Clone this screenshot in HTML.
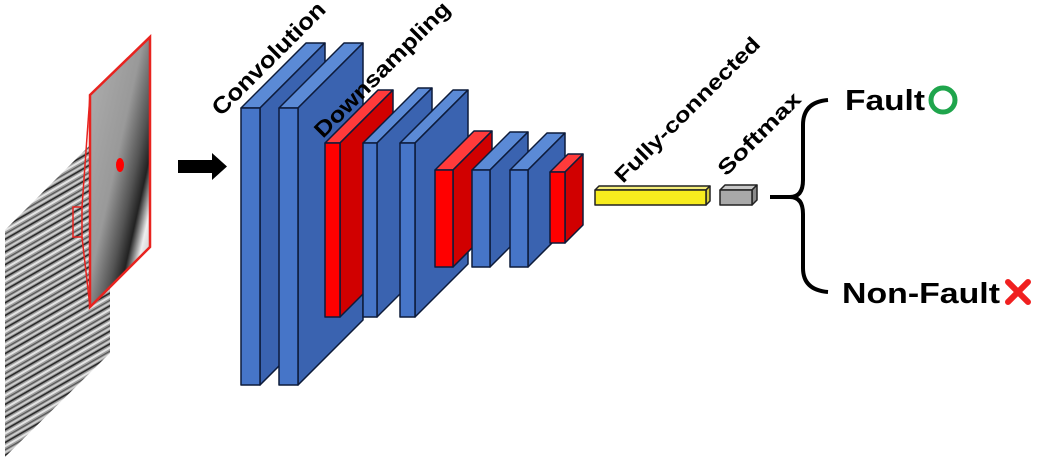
<!DOCTYPE html>
<html><head><meta charset="utf-8"><style>html,body{margin:0;padding:0;background:#fff}svg{display:block}</style></head>
<body>
<svg width="1041" height="465" viewBox="0 0 1041 465" xmlns="http://www.w3.org/2000/svg">
<defs>
<pattern id="seis" width="16" height="11" patternUnits="userSpaceOnUse" patternTransform="rotate(-30)">
<rect width="16" height="11" fill="#a0a0a0"/>
<rect y="0" width="16" height="1.6" fill="#2a2a2a"/>
<rect y="3" width="16" height="2" fill="#e4e4e4"/>
<rect y="6.5" width="16" height="1.2" fill="#555"/>
<rect y="8.5" width="16" height="1.5" fill="#d0d0d0"/>
</pattern>
<linearGradient id="pan" x1="0" y1="0" x2="1" y2="1">
<stop offset="0" stop-color="#b0b0b0"/><stop offset="0.45" stop-color="#999"/><stop offset="0.62" stop-color="#555"/><stop offset="0.72" stop-color="#222"/><stop offset="0.82" stop-color="#eee"/><stop offset="1" stop-color="#aaa"/>
</linearGradient>
</defs>
<polygon points="5,230 110,125 110,353 5,457" fill="url(#seis)"/>
<polygon points="90,95 150,37 150,247 90,307" fill="url(#pan)" stroke="#e8231f" stroke-width="2.5"/>
<ellipse cx="120" cy="165" rx="4" ry="7" fill="#f00"/>
<rect x="73" y="207" width="9" height="30" fill="none" stroke="#e8231f" stroke-width="1.5"/>
<line x1="82" y1="207" x2="90" y2="95" stroke="#e8231f" stroke-width="1.5"/>
<line x1="82" y1="237" x2="90" y2="307" stroke="#e8231f" stroke-width="1.5"/>
<polygon points="178,160 212,160 212,153 227,166.5 212,180 212,173 178,173" fill="#000"/>
<g stroke="#0d1b3a" stroke-width="1.5" stroke-linejoin="round">
<polygon points="241,108 306,43 325,43 260,108" fill="#5b8ad6"/><polygon points="260,108 325,43 325,320 260,385" fill="#3a63b0"/><rect x="241" y="108" width="19" height="277" fill="#4675c8"/>
<polygon points="279,108 344,43 363,43 298,108" fill="#5b8ad6"/><polygon points="298,108 363,43 363,320 298,385" fill="#3a63b0"/><rect x="279" y="108" width="19" height="277" fill="#4675c8"/>
<polygon points="325,143 378,90 393,90 340,143" fill="#ff3b3b"/><polygon points="340,143 393,90 393,264 340,317" fill="#d10000"/><rect x="325" y="143" width="15" height="174" fill="#ff0000"/>
<polygon points="363,143 418,88 432,88 377,143" fill="#5b8ad6"/><polygon points="377,143 432,88 432,262 377,317" fill="#3a63b0"/><rect x="363" y="143" width="14" height="174" fill="#4675c8"/>
<polygon points="400,143 453,90 468,90 415,143" fill="#5b8ad6"/><polygon points="415,143 468,90 468,264 415,317" fill="#3a63b0"/><rect x="400" y="143" width="15" height="174" fill="#4675c8"/>
<polygon points="435,170 474,131 492,131 453,170" fill="#ff3b3b"/><polygon points="453,170 492,131 492,228 453,267" fill="#d10000"/><rect x="435" y="170" width="18" height="97" fill="#ff0000"/>
<polygon points="472,170 510,132 528,132 490,170" fill="#5b8ad6"/><polygon points="490,170 528,132 528,229 490,267" fill="#3a63b0"/><rect x="472" y="170" width="18" height="97" fill="#4675c8"/>
<polygon points="510,170 547,133 565,133 528,170" fill="#5b8ad6"/><polygon points="528,170 565,133 565,230 528,267" fill="#3a63b0"/><rect x="510" y="170" width="18" height="97" fill="#4675c8"/>
<polygon points="550,172 568,154 583,154 565,172" fill="#ff3b3b"/><polygon points="565,172 583,154 583,225 565,243" fill="#d10000"/><rect x="550" y="172" width="15" height="71" fill="#ff0000"/>
</g>
<g stroke="#222" stroke-width="1.5" stroke-linejoin="round">
<polygon points="595,190 599,186 710,186 706,190" fill="#f5ee7a"/><polygon points="706,190 710,186 710,201 706,205" fill="#d8cf3a"/><rect x="595" y="190" width="111" height="15" fill="#f7ec1e"/>
<polygon points="720,190 725,185 757,185 752,190" fill="#c8c8c8"/><polygon points="752,190 757,185 757,200 752,205" fill="#8a8a8a"/><rect x="720" y="190" width="32" height="15" fill="#a9a9a9"/>
</g>
<g font-family="Liberation Sans, sans-serif" font-weight="bold" fill="#000">
<text x="0" y="0" font-size="23" textLength="150" lengthAdjust="spacingAndGlyphs" transform="translate(221,117) rotate(-45)">Convolution</text>
<text x="0" y="0" font-size="22" textLength="182" lengthAdjust="spacingAndGlyphs" transform="translate(323,139) rotate(-45)">Downsampling</text>
<text x="0" y="0" font-size="21" textLength="196" lengthAdjust="spacingAndGlyphs" transform="translate(623,184) rotate(-45)">Fully-connected</text>
<text x="0" y="0" font-size="21" textLength="108" lengthAdjust="spacingAndGlyphs" transform="translate(726,177) rotate(-45)">Softmax</text>
<text x="845" y="110" font-size="29" textLength="80" lengthAdjust="spacingAndGlyphs">Fault</text>
<text x="842" y="303" font-size="29" textLength="158" lengthAdjust="spacingAndGlyphs">Non-Fault</text>
</g>
<path d="M770,197 L790,197 Q803,197 803,180 L803,125 Q803,102 828,100 M790,197 Q803,197 803,214 L803,268 Q803,290 828,292" fill="none" stroke="#000" stroke-width="4"/>
<circle cx="943" cy="100" r="12" fill="none" stroke="#1fa54c" stroke-width="5"/>
<g stroke="#f02020" stroke-width="6" stroke-linecap="round"><line x1="1008" y1="282" x2="1028" y2="302"/><line x1="1028" y1="282" x2="1008" y2="302"/></g>
</svg>
</body></html>
